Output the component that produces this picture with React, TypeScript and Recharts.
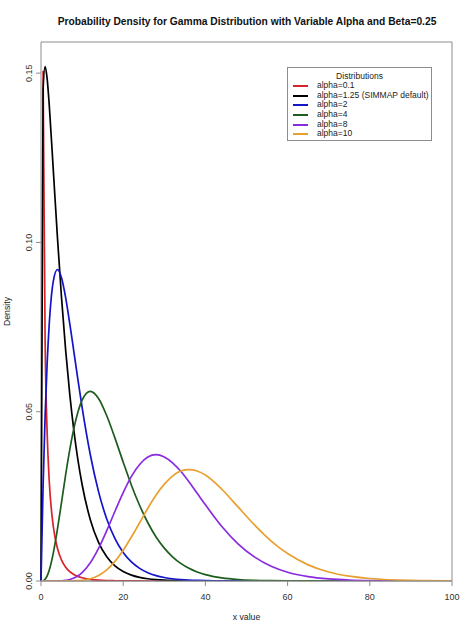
import React from "react";
import { LineChart, Line, XAxis, YAxis, ReferenceArea } from "recharts";

const xValues = [
  0, 0.5, 1, 1.5, 2, 3, 4, 5, 6, 7, 8, 9, 10, 12, 14, 16, 18, 20, 22, 24, 26, 28, 30,
  32, 34, 36, 38, 40, 44, 48, 52, 56, 60, 65, 70, 75, 80, 90, 100,
];

// densities for each alpha (beta = 0.25); null = off the top of the plot
const alpha01 = [
  null, 0.1507, 0.0713, 0.0437, 0.0297, 0.0161, 0.00967, 0.00616, 0.00407, 0.00276, 0.00191,
  0.00134, 0.00095, 0.00049, 0.00026, 0.00014, 0.00008, 0.00004, 0.00002, 0.00001, 0, 0, 0,
  0, 0, 0, 0, 0, 0, 0, 0, 0, 0, 0, 0, 0, 0, 0, 0,
];
const alpha125 = [
  0, 0.1447, 0.1519, 0.1483, 0.1407, 0.1212, 0.1015, 0.0836, 0.0681, 0.0551, 0.0444, 0.0356,
  0.0285, 0.0181, 0.0114, 0.00714, 0.00446, 0.00278, 0.00173, 0.00107, 0.00066, 0.00041,
  0.00025, 0.00016, 0.0001, 0.00006, 0.00004, 0.00002, 0.00001, 0, 0, 0, 0, 0, 0, 0, 0, 0, 0,
];
const alpha2 = [
  0, 0.0276, 0.0487, 0.0644, 0.0758, 0.0886, 0.092, 0.0895, 0.0837, 0.076, 0.0677, 0.0593,
  0.0513, 0.0373, 0.0264, 0.0183, 0.0125, 0.00842, 0.00562, 0.00372, 0.00244, 0.0016, 0.00104,
  0.00067, 0.00043, 0.00028, 0.00018, 0.00011, 0.00005, 0.00002, 0.00001, 0, 0, 0, 0, 0, 0, 0, 0,
];
const alpha4 = [
  0, 0.00007, 0.00051, 0.00151, 0.00316, 0.0083, 0.0153, 0.0233, 0.0314, 0.0388, 0.0451, 0.05,
  0.0534, 0.056, 0.0539, 0.0488, 0.0422, 0.0351, 0.0283, 0.0223, 0.0172, 0.013, 0.00972,
  0.00716, 0.00521, 0.00375, 0.00267, 0.00189, 0.00093, 0.00044, 0.00021, 0.0001, 0.00004,
  0.00002, 0.00001, 0, 0, 0, 0,
];
const alpha8 = [
  0, 0, 0, 0, 0, 0.000003, 0.00002, 0.00007, 0.00019, 0.00043, 0.00086, 0.00153, 0.00249,
  0.0054, 0.00964, 0.0149, 0.0206, 0.0261, 0.0309, 0.0344, 0.0366, 0.0373, 0.0366, 0.0349,
  0.0324, 0.0293, 0.0259, 0.0225, 0.0161, 0.0109, 0.00704, 0.00435, 0.00259, 0.0013, 0.00063,
  0.00029, 0.00013, 0.00002, 0,
];
const alpha10 = [
  0, 0, 0, 0, 0, 0, 0, 0, 0.00001, 0.00002, 0.00005, 0.00011, 0.00022, 0.00067, 0.00164,
  0.00331, 0.00579, 0.00907, 0.013, 0.0172, 0.0215, 0.0254, 0.0286, 0.031, 0.0325, 0.0329,
  0.0325, 0.0313, 0.0271, 0.0218, 0.0165, 0.0118, 0.0081, 0.00477, 0.00266, 0.00142, 0.00073,
  0.00017, 0.00004,
];

const xTicks = [0, 20, 40, 60, 80, 100];
const yTicks = [0, 0.05, 0.1, 0.15];

const series = [
  { key: "a01", name: "alpha=0.1", color: "#d8232a", values: alpha01 },
  { key: "a125", name: "alpha=1.25 (SIMMAP default)", color: "#000000", values: alpha125 },
  { key: "a2", name: "alpha=2", color: "#1414c8", values: alpha2 },
  { key: "a4", name: "alpha=4", color: "#1c5c1c", values: alpha4 },
  { key: "a8", name: "alpha=8", color: "#8a2be0", values: alpha8 },
  { key: "a10", name: "alpha=10", color: "#e8a030", values: alpha10 },
];

const chartData = xValues.map((x, i) => {
  const row: Record<string, number | null> = { x };
  series.forEach((s) => {
    row[s.key] = s.values[i];
  });
  return row;
});

const FONT = "'Liberation Sans', Arial, Helvetica, sans-serif";
const GREY = "#8c8c8c";

const YTick = (props: any) => {
  const { x, y, payload } = props;
  return (
    <text
      x={x}
      y={y}
      transform={`rotate(-90, ${x}, ${y})`}
      textAnchor="middle"
      fontSize={9}
      fontFamily={FONT}
      fill="#333"
    >
      {Number(payload.value).toFixed(2)}
    </text>
  );
};

const YLabel = (props: any) => {
  const vb = props.viewBox;
  const cx = 10;
  const cy = vb.y + vb.height / 2;
  return (
    <text
      x={cx}
      y={cy}
      transform={`rotate(-90, ${cx}, ${cy})`}
      textAnchor="middle"
      fontSize={8.7}
      fontFamily={FONT}
      fill="#222"
    >
      Density
    </text>
  );
};

const XLabel = (props: any) => {
  const vb = props.viewBox;
  return (
    <text
      x={vb.x + vb.width / 2}
      y={620}
      textAnchor="middle"
      fontSize={8.7}
      fontFamily={FONT}
      fill="#222"
    >
      x value
    </text>
  );
};

export default function App() {
  return (
    <div style={{ position: "absolute", left: 0, top: 0, width: 474, height: 633, background: "#fff" }}>
      <LineChart
        width={474}
        height={633}
        data={chartData}
        margin={{ top: 42, right: 22, bottom: 0, left: 0 }}
      >
        <ReferenceArea
          x1={0}
          x2={100}
          y1={0}
          y2={0.1592}
          fill="none"
          stroke={GREY}
          strokeWidth={1}
          ifOverflow="visible"
        />
        <XAxis
          type="number"
          dataKey="x"
          domain={[0, 100]}
          ticks={xTicks}
          height={52}
          axisLine={{ stroke: GREY }}
          tickLine={{ stroke: GREY }}
          tickSize={5}
          tickMargin={8}
          tick={{ fontSize: 9, fontFamily: FONT, fill: "#333" }}
          label={<XLabel />}
        />
        <YAxis
          type="number"
          domain={[0, 0.1592]}
          ticks={yTicks}
          width={41}
          allowDataOverflow
          axisLine={false}
          tickLine={{ stroke: GREY }}
          tickSize={5}
          tickMargin={4}
          tick={<YTick />}
          label={<YLabel />}
        />
        {series.map((s) => (
          <Line
            key={s.key}
            dataKey={s.key}
            name={s.name}
            type="monotone"
            stroke={s.color}
            strokeWidth={1.7}
            dot={false}
            connectNulls={false}
            isAnimationActive={false}
          />
        ))}
      </LineChart>
      <div
        style={{
          position: "absolute",
          left: 0,
          top: 16,
          width: 494,
          textAlign: "center",
          fontFamily: FONT,
          fontWeight: "bold",
          fontSize: 10.25,
          color: "#111",
          whiteSpace: "nowrap",
        }}
      >
        Probability Density for Gamma Distribution with Variable Alpha and Beta=0.25
      </div>
      <div
        style={{
          position: "absolute",
          left: 287,
          top: 67,
          width: 145,
          height: 74,
          border: `1px solid ${GREY}`,
          fontFamily: FONT,
          fontSize: 8.5,
          color: "#222",
          boxSizing: "border-box",
          whiteSpace: "nowrap",
        }}
      >
        <div style={{ textAlign: "center", lineHeight: "10px", marginTop: 3 }}>Distributions</div>
        {series.map((s) => (
          <div key={s.key} style={{ display: "flex", alignItems: "center", height: 9.7, lineHeight: "9.7px" }}>
            <span
              style={{
                display: "inline-block",
                width: 15,
                height: 2,
                background: s.color,
                marginLeft: 5,
                marginRight: 9,
                flexShrink: 0,
              }}
            />
            <span>{s.name}</span>
          </div>
        ))}
      </div>
    </div>
  );
}
